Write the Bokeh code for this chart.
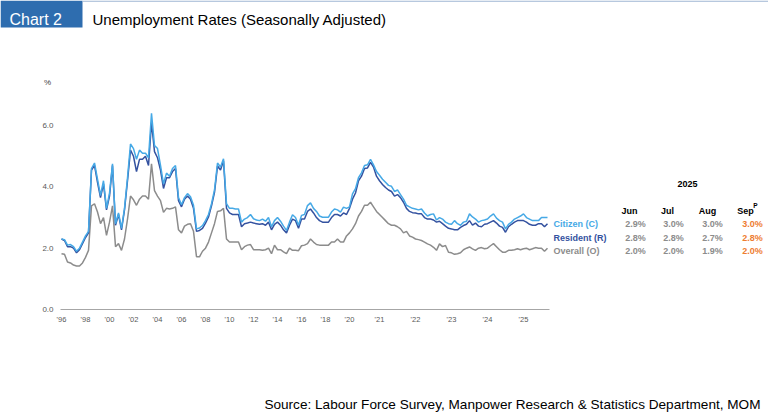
from bokeh.plotting import figure
from bokeh.models import Range1d
from bokeh.core.properties import value
from bokeh.embed import file_html
from bokeh.resources import INLINE

# Unemployment rates, seasonally adjusted (%).
# Quarterly from 1996Q1 to 2020Q1, then monthly from Apr 2020 to Sep 2025.
citizen_q = [
    2.30, 2.28, 2.10, 2.12, 2.05, 1.90, 2.00, 2.20, 2.40, 2.55,
    4.60, 4.78, 4.25, 3.72, 4.20, 3.30, 3.80, 4.75, 2.80, 3.15,
    2.65, 3.30, 4.30, 5.40, 5.25, 4.90, 5.20, 5.10, 5.10, 4.95,
    6.40, 5.35, 5.25, 4.70, 4.10, 4.45, 4.35, 4.60, 4.70, 3.65,
    3.42, 3.65, 3.78, 3.68, 3.40, 2.63, 2.66, 2.74, 2.90, 3.10,
    3.45, 3.90, 4.78, 4.65, 4.92, 3.45, 3.30, 3.30, 3.28, 3.28,
    2.85, 2.95, 3.00, 3.10, 2.96, 2.92, 2.90, 2.95, 2.88, 3.00,
    2.70, 2.90, 3.00, 2.88, 2.72, 2.58, 2.85, 3.09, 3.00, 2.75,
    3.07, 3.10, 3.39, 3.48, 3.30, 3.20, 3.05, 3.01, 3.01, 3.01,
    3.18, 3.28, 3.25, 3.18, 3.34, 3.30, 3.35,
]
citizen_m = [
    3.77, 3.94, 4.30, 4.46, 4.70, 4.72, 4.90, 4.72, 4.50, 4.38,
    4.25, 4.15, 4.05, 4.02, 3.85, 3.90, 3.75, 3.60, 3.40, 3.35,
    3.30, 3.28, 3.25, 3.28, 3.15, 3.05, 3.10, 3.12, 2.92, 3.00,
    2.95, 2.85, 2.80, 2.78, 2.90, 2.80, 2.75, 2.85, 2.88, 3.12,
    3.02, 2.95, 2.85, 2.90, 2.92, 2.95, 3.05, 3.12, 2.98, 2.90,
    2.85, 2.63, 2.78, 2.85, 2.95, 3.00, 3.05, 3.12, 3.00, 2.95,
    2.90, 2.90, 2.90, 3.00, 3.00, 3.00,
]
resident_q = [
    2.30, 2.25, 2.05, 2.05, 2.00, 1.85, 1.95, 2.15, 2.35, 2.50,
    4.55, 4.70, 4.15, 3.65, 4.10, 3.25, 3.70, 4.70, 2.75, 3.10,
    2.60, 3.25, 4.20, 5.20, 5.00, 4.50, 4.90, 4.90, 5.00, 4.70,
    6.10, 5.15, 4.95, 4.55, 3.95, 4.30, 4.30, 4.50, 4.60, 3.55,
    3.35, 3.60, 3.70, 3.60, 3.30, 2.55, 2.58, 2.65, 2.82, 3.02,
    3.38, 3.82, 4.68, 4.55, 4.85, 3.30, 3.15, 3.10, 3.10, 3.10,
    2.70, 2.80, 2.82, 2.85, 2.82, 2.80, 2.78, 2.80, 2.75, 2.85,
    2.60, 2.78, 2.85, 2.75, 2.60, 2.50, 2.75, 2.95, 2.90, 2.65,
    2.95, 2.95, 3.20, 3.28, 3.15, 3.00, 2.90, 2.85, 2.85, 2.85,
    3.00, 3.10, 3.10, 3.05, 3.15, 3.10, 3.30,
]
resident_m = [
    3.60, 3.80, 4.20, 4.35, 4.60, 4.62, 4.80, 4.65, 4.35, 4.20,
    4.08, 3.98, 3.90, 3.85, 3.70, 3.75, 3.65, 3.50, 3.30, 3.20,
    3.16, 3.15, 3.12, 3.12, 3.00, 2.95, 2.95, 2.92, 2.85, 2.88,
    2.80, 2.72, 2.65, 2.63, 2.60, 2.60, 2.68, 2.74, 2.78, 2.90,
    2.75, 2.82, 2.72, 2.70, 2.78, 2.80, 2.85, 2.90, 2.82, 2.72,
    2.68, 2.52, 2.70, 2.78, 2.85, 2.90, 2.90, 2.90, 2.85, 2.78,
    2.75, 2.75, 2.80, 2.80, 2.70, 2.80,
]
overall_q = [
    1.82, 1.80, 1.55, 1.52, 1.45, 1.42, 1.42, 1.52, 1.70, 1.93,
    3.38, 3.45, 3.18, 2.80, 3.00, 2.42, 2.85, 3.38, 2.05, 2.15,
    1.93, 2.30, 2.95, 3.70, 3.58, 3.40, 3.60, 3.70, 3.70, 3.60,
    4.75, 3.88, 3.70, 3.55, 3.17, 3.30, 3.28, 3.30, 3.35, 2.60,
    2.50, 2.72, 2.78, 2.80, 2.55, 1.72, 1.72, 1.90, 2.00, 2.20,
    2.50, 2.80, 3.20, 3.22, 3.30, 2.30, 2.20, 2.20, 2.20, 2.20,
    1.95, 2.05, 2.10, 2.12, 1.95, 1.95, 1.95, 1.93, 1.95, 2.00,
    1.82, 2.10, 1.95, 1.95, 1.88, 1.82, 2.00, 1.93, 1.93, 1.92,
    2.08, 2.10, 2.15, 2.30, 2.20, 2.12, 2.10, 2.10, 2.10, 2.10,
    2.20, 2.20, 2.30, 2.20, 2.20, 2.40, 2.50,
]
overall_m = [
    2.63, 2.80, 3.05, 3.20, 3.40, 3.40, 3.50, 3.35, 3.20, 3.10,
    3.00, 2.90, 2.80, 2.75, 2.75, 2.70, 2.63, 2.50, 2.55, 2.40,
    2.36, 2.30, 2.28, 2.25, 2.20, 2.14, 2.10, 2.03, 1.93, 2.14,
    2.05, 2.09, 1.87, 1.85, 1.80, 1.82, 1.85, 1.95, 2.00, 2.04,
    1.98, 1.93, 2.00, 2.02, 1.98, 2.00, 2.08, 2.15, 2.05, 1.95,
    1.87, 1.87, 1.93, 1.93, 1.95, 1.98, 1.95, 1.98, 2.00, 1.95,
    1.98, 2.02, 2.00, 2.00, 1.90, 2.00,
]

# Period keys: quarters up to 2020Q1, months from 2020-04 onwards
periods = [(y, "Q%d" % q) for y in range(1996, 2021) for q in range(1, 5)][:97]
periods += [(2020, "%02d" % m) for m in range(4, 13)]
periods += [(y, "%02d" % m) for y in range(2021, 2026) for m in range(1, 13)][:57]

citizen = citizen_q + citizen_m
resident = resident_q + resident_m
overall = overall_q + overall_m
slots = list(range(len(periods)))

tick_years = list(range(1996, 2021, 2)) + [2021, 2022, 2023, 2024, 2025]
tick_labels = ["'%02d" % (y % 100) for y in tick_years]
tick_slots = [next(i for i, (y, _) in enumerate(periods) if y == ty) for ty in tick_years]

y_ticks = [0, 2, 4, 6]
y_tick_labels = ["%.1f" % t for t in y_ticks]

table_year = "2025"
table_months = ["Jun", "Jul", "Aug", "Sep"]
series_names = ["Citizen (C)", "Resident (R)", "Overall (O)"]

C_CIT = "#46A9E6"
C_RES = "#3452A0"
C_ALL = "#8C8C8C"
C_ORANGE = "#EE7D31"
C_BOX = "#2E6DAF"
C_AXIS_TXT = "#595959"
FONT = value("Liberation Sans")

W, H = 768, 414
# plot area: slot 0 sits at x=61 px, 3 px per period; value 0 at y=309 px, 30.65 px per point
X0, DX = 61.0, 3.0
Y0, DY = 309.0, 30.65

p = figure(
    width=W, height=H, output_backend="svg", toolbar_location=None,
    x_range=Range1d(-X0 / DX, (W - X0) / DX),
    y_range=Range1d((Y0 - H) / DY, Y0 / DY),
    x_axis_location=None, y_axis_location=None, min_border=0,
)
# page coordinates (pixels from top-left) for the surrounding texts
p.extra_x_ranges = {"px": Range1d(0, W)}
p.extra_y_ranges = {"px": Range1d(H, 0)}
p.outline_line_color = None
p.grid.grid_line_color = None
p.background_fill_color = "white"
p.border_fill_color = "white"

PX = dict(x_range_name="px", y_range_name="px")


def txt(x, y, text, size, color, bold=False, align="left", baseline="middle", **kw):
    p.text(x=x, y=y, text=text, text_font=FONT, text_font_size=value("%spx" % size),
           text_color=color, text_font_style="bold" if bold else "normal",
           text_align=align, text_baseline=baseline, **kw)


# x axis baseline and year labels
p.line([slots[0] - 1 / 3, slots[-1] + 2 / 3], [0, 0], line_color="#A6A6A6", line_width=1)
txt(tick_slots, [319] * len(tick_slots), tick_labels, 7.5, C_AXIS_TXT, align="center",
    y_range_name="px")

# y axis labels
txt([53] * len(y_ticks), y_ticks, y_tick_labels, 8, C_AXIS_TXT, align="right",
    x_range_name="px")
txt([47], [82], ["%"], 8, "#404040", align="center", **PX)

# series
p.line(slots, overall, line_color=C_ALL, line_width=1.5)
p.line(slots, resident, line_color=C_RES, line_width=1.5)
p.line(slots, citizen, line_color=C_CIT, line_width=1.5)

# header
p.quad(left=[0], right=[82], top=[0], bottom=[27], fill_color=C_BOX, line_color=None, **PX)
p.quad(left=[82], right=[W], top=[0], bottom=[1.2], fill_color="#9FB6D3", line_color=None, **PX)
txt([9], [19], ["Chart 2"], 16, "white", baseline="alphabetic", **PX)
txt([92], [19], ["Unemployment Rates (Seasonally Adjusted)"], 15, "black",
    baseline="alphabetic", **PX)

# latest-months table
col_x = [635, 673, 712, 752]
head_x = [629, 667, 707, 745]
row_y = [223.5, 237, 250.5]
txt([687], [183.5], [table_year], 9, "black", bold=True, align="center", **PX)
txt(head_x, [210] * 4, table_months, 9, "black", bold=True, align="center", **PX)
txt([755], [204.5], ["P"], 6.5, "black", bold=True, align="center", **PX)

rows = [citizen, resident, overall]
name_colors = [C_CIT, C_RES, C_ALL]
for name, series, ncol, ry in zip(series_names, rows, name_colors, row_y):
    txt([553], [ry], [name], 9, ncol, bold=True, **PX)
    latest = series[-len(table_months):]
    labels = ["%.1f%%" % v for v in latest]
    colors = ["#8C8C8C"] * (len(latest) - 1) + [C_ORANGE]
    p.text(x=col_x, y=[ry] * len(latest), text=labels, text_font=FONT,
           text_font_size=value("9px"), text_color=colors, text_font_style="bold",
           text_align="center", text_baseline="middle", **PX)

txt([760], [404], ["Source: Labour Force Survey, Manpower Research & Statistics Department, MOM"],
    13.6, "black", align="right", **PX)

open("out.html", "w").write(file_html(p, INLINE))
